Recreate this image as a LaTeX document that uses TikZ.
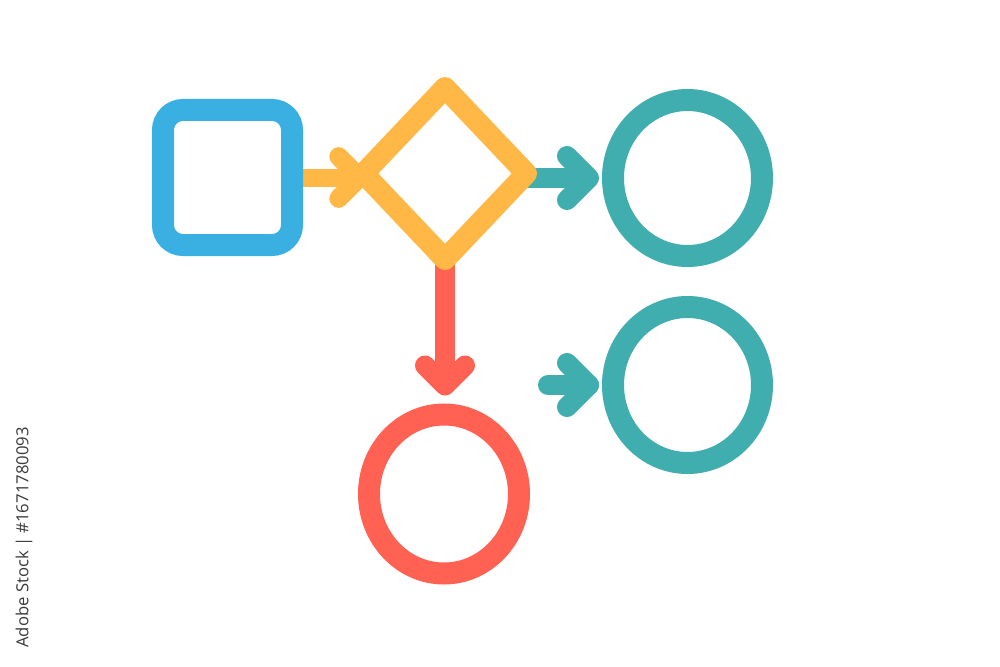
\documentclass[tikz,border=0pt]{standalone}
\usepackage{fontspec}
\setmainfont{Open Sans}
\usetikzlibrary{shapes.geometric,calc,backgrounds}
\definecolor{cblue}{RGB}{58,176,226}
\definecolor{corange}{RGB}{255,184,70}
\definecolor{cteal}{RGB}{64,173,174}
\definecolor{cred}{RGB}{255,97,83}
\definecolor{wmgray}{RGB}{58,58,58}
\begin{document}
\begin{tikzpicture}[x=0.75pt,y=-0.75pt,
  sqbox/.style={rectangle, draw=cblue, line width=16.5pt, rounded corners=15pt,
    minimum width=96.75pt, minimum height=101.25pt, inner sep=0pt, outer sep=0pt},
  decide/.style={diamond, draw=corange, line width=16pt, line join=round,
    minimum width=122pt, minimum height=128.7pt, inner sep=0pt, outer sep=0pt},
  endcirc/.style={ellipse, line width=16.5pt, minimum width=111.75pt,
    minimum height=117pt, inner sep=0pt, outer sep=0pt},
  shaft/.style={line width=15pt, line cap=butt},
  chev/.style={line width=15pt, line cap=round, line join=round}]
\useasboundingbox (0,0) rectangle (1000,667);

\node[sqbox] (start) at (227.5,177.5) {};
\node[decide] (dec) at (445,173.5) {};
\node[endcirc, draw=cteal] (c1) at (687.5,178) {};
\node[endcirc, draw=cteal] (c2) at (687.5,385) {};
\node[endcirc, draw=cred, minimum width=112.5pt, minimum height=119.25pt] (c3) at (444,494) {};

\coordinate (src) at (548,385);
\coordinate (tipo) at ($(dec.west)+(-4,4)$);
\coordinate (tipt) at ($(c1.west)+(-24,0)$);
\coordinate (tipr) at ($(dec.south |- c3.north)+(0,-29)$);
\coordinate (tipb) at ($(c2.west)+(-24,0)$);

\begin{scope}[on background layer]
  \fill[white] (0,0) rectangle (1000,667);
  \draw[shaft, draw=corange, line width=13.5pt] (start.east) -- (tipo);
  \draw[chev, draw=corange, line width=14pt] ($(tipo)+(-21,-21)$) -- (tipo) -- ($(tipo)+(-21,21)$);
  \draw[shaft, draw=cteal] (dec.east |- c1.west) -- (tipt);
  \draw[shaft, draw=cred] (dec.south) -- (tipr);
\end{scope}

\draw[chev, draw=cteal] ($(tipt)+(-22,-22)$) -- (tipt) -- ($(tipt)+(-22,22)$);
\draw[chev, draw=cred] ($(tipr)+(-20,-20)$) -- (tipr) -- ($(tipr)+(20,-20)$);
\draw[shaft, draw=cteal, line cap=round] (src) -- (tipb);
\draw[chev, draw=cteal] ($(tipb)+(-22,-22)$) -- (tipb) -- ($(tipb)+(-22,22)$);

\node[rotate=90, text=wmgray, inner sep=0pt, font=\fontsize{12.5}{15}\selectfont] (wm) at (24,537.5) {Adobe Stock | \#1671780093};
\end{tikzpicture}
\end{document}
